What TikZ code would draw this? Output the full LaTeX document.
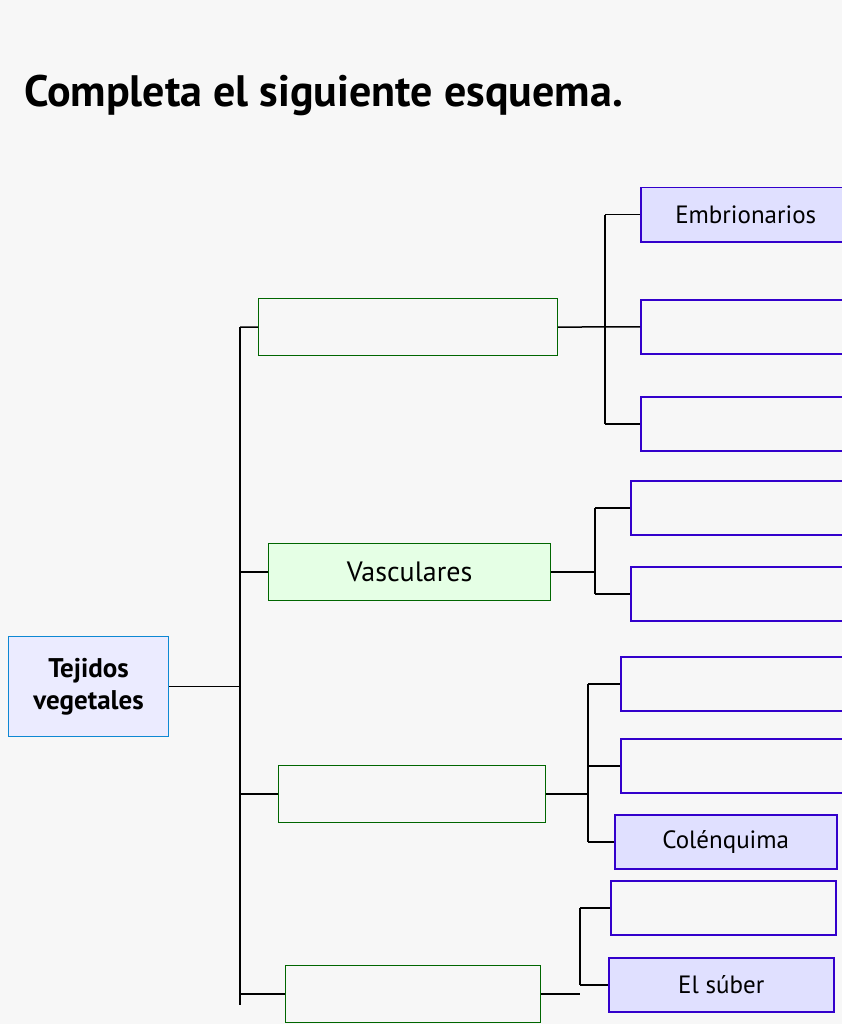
\documentclass[tikz,border=0pt]{standalone}
\usepackage{fontspec}
\setmainfont{PT Sans}
\begin{document}
\begin{tikzpicture}[x=1pt,y=-1pt,
  line width=1.5pt,
  rootbox/.style={draw=cyan!70!blue,fill=blue!8,line width=1.2pt,font=\bfseries\fontsize{27}{32}\selectfont,align=center,minimum width=160pt,minimum height=100pt,anchor=north west},
  midbox/.style={draw=green!40!black,line width=1.2pt,minimum height=57pt,anchor=north west,font=\fontsize{28}{32}\selectfont},
  leafbox/.style={draw=blue!60!violet,line width=1.5pt,minimum height=54pt,anchor=north west,font=\fontsize{25}{28}\selectfont}]
\useasboundingbox[fill=gray!6] (0,0) rectangle (842,1024);
\node[anchor=west,font=\bfseries\fontsize{44}{50}\selectfont] (title) at (20,95) {Completa el siguiente esquema.};
% root
\node[rootbox] (root) at (8,636) {Tejidos\\vegetales};
% second level
\node[midbox,minimum width=299pt] (m1) at (258,298) {};
\node[midbox,minimum width=282pt,fill=green!10] (m2) at (268,543) {Vasculares};
\node[midbox,minimum width=267pt] (m3) at (278,765) {};
\node[midbox,minimum width=255pt] (m4) at (285,965) {};
% third level
\node[leafbox,minimum width=210pt,fill=blue!12] (e1) at (640,187) {Embrionarios};
\node[leafbox,minimum width=210pt] (e2) at (640,299) {};
\node[leafbox,minimum width=210pt] (e3) at (640,396) {};
\node[leafbox,minimum width=215pt] (v1) at (630,480) {};
\node[leafbox,minimum width=215pt] (v2) at (630,566) {};
\node[leafbox,minimum width=222pt] (f1) at (620,656) {};
\node[leafbox,minimum width=222pt] (f2) at (620,738) {};
\node[leafbox,minimum width=222pt,fill=blue!12] (f3) at (614,814) {Colénquima};
\node[leafbox,minimum width=225pt] (p1) at (610,880) {};
\node[leafbox,minimum width=225pt,fill=blue!12] (p2) at (608,957) {El súber};
% connectors
\coordinate (t0) at (240,327);
\coordinate (t1) at (240,1005);
\draw (t0) -- (t1);
\draw (root.east) -- (root.east -| t0);
\draw (t0) -- (m1.west);
\draw (m2.west -| t0) -- (m2.west);
\draw (m3.west -| t0) -- (m3.west);
\draw (m4.west -| t0) -- (m4.west);
% group 1
\coordinate (g1) at (605,0);
\draw (e1.west -| g1) -- (e3.west -| g1);
\draw (m1.east) -- (e2.west);
\draw (e1.west -| g1) -- (e1.west);
\draw (e3.west -| g1) -- (e3.west);
% group 2
\coordinate (g2) at (595,0);
\draw (v1.west -| g2) -- (v2.west -| g2);
\draw (m2.east) -- (m2.east -| g2);
\draw (v1.west -| g2) -- (v1.west);
\draw (v2.west -| g2) -- (v2.west);
% group 3
\coordinate (g3) at (588,0);
\draw (f1.west -| g3) -- (f3.west -| g3);
\draw (m3.east) -- (m3.east -| g3);
\draw (f1.west -| g3) -- (f1.west);
\draw (f2.west -| g3) -- (f2.west);
\draw (f3.west -| g3) -- (f3.west);
% group 4
\coordinate (g4) at (580,0);
\draw (p1.west -| g4) -- (p2.west -| g4);
\draw (m4.east) -- (m4.east -| g4);
\draw (p1.west -| g4) -- (p1.west);
\draw (p2.west -| g4) -- (p2.west);
\end{tikzpicture}
\end{document}
